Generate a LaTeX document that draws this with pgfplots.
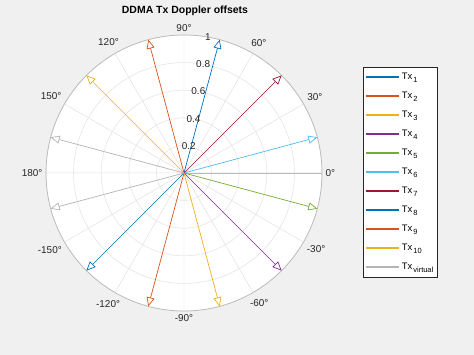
\documentclass[border=0pt]{standalone}
\usepackage{fontspec}
\setmainfont{Liberation Sans}
\usepackage{pgfplots}
\pgfplotsset{compat=1.18}
\usepgfplotslibrary{polar}
\usetikzlibrary{arrows.meta}
\definecolor{figbg}{RGB}{240,240,240}
\definecolor{gridc}{RGB}{226,226,226}
\definecolor{outerc}{RGB}{185,185,185}
\definecolor{tickc}{RGB}{38,38,38}
\definecolor{cA}{RGB}{0,114,189}
\definecolor{cB}{RGB}{217,83,25}
\definecolor{cC}{RGB}{237,177,32}
\definecolor{cD}{RGB}{126,47,142}
\definecolor{cE}{RGB}{119,172,48}
\definecolor{cF}{RGB}{77,190,238}
\definecolor{cG}{RGB}{162,20,47}
\definecolor{cV}{RGB}{180,180,180}
\newcommand\sub[1]{\kern1bp\raisebox{-0.6ex}{\fontsize{7.5}{8}\selectfont #1}}
\tikzset{rlab/.style={font=\fontsize{10}{12}\selectfont, text=tickc, inner sep=0pt}}
\pgfplotsset{limg/.style={legend image code/.code={\draw[draw=#1, line width=1.6bp] (0bp,0bp) -- (33bp,0bp);}}}
\begin{document}
\begin{tikzpicture}
\fill[figbg] (0bp,0bp) rectangle (474bp,355bp);
\useasboundingbox (0bp,0bp) rectangle (474bp,355bp);
\node[font=\bfseries\fontsize{10.5}{13}\selectfont, text=black] at (185bp,344bp) {DDMA Tx Doppler offsets};
\begin{polaraxis}[
  at={(184bp,182bp)}, anchor=origin,
  scale only axis, width=276bp, height=276bp,
  xmin=0, xmax=360, ymin=0, ymax=1,
  xtick={0,30,...,330},
  xticklabels={0°,30°,60°,90°,120°,150°,180°,-150°,-120°,-90°,-60°,-30°},
  ytick={0.2,0.4,0.6,0.8,1},
  yticklabel=\empty,
  grid=major,
  major grid style={draw=gridc, line width=0.5bp},
  axis line style={draw=outerc, line width=0.7bp},
  major tick length=0pt,
  axis background/.style={fill=white},
  clip=false,
  xticklabel style={font=\fontsize{10}{12}\selectfont, text=tickc},
  arw/.style={line width=0.7bp, -{Triangle[open,length=9bp,width=8bp]}, forget plot},
  legend cell align=left,
  legend style={at={(1.1486,0.884)}, anchor=north west, draw=tickc, fill=white, line width=0.5bp,
    font=\fontsize{9.5}{11}\selectfont, inner xsep=2bp, inner ysep=2.5bp, row sep=4bp,
    nodes={inner sep=2bp, text height=8bp, text depth=3bp}},
]
\addplot[arw, color=cA] coordinates {(0,0) (75,1)};
\addplot[arw, color=cB] coordinates {(0,0) (105,1)};
\addplot[arw, color=cC] coordinates {(0,0) (135,1)};
\addplot[arw, color=cD] coordinates {(0,0) (315,1)};
\addplot[arw, color=cE] coordinates {(0,0) (345,1)};
\addplot[arw, color=cF] coordinates {(0,0) (15,1)};
\addplot[arw, color=cG] coordinates {(0,0) (45,1)};
\addplot[arw, color=cA] coordinates {(0,0) (225,1)};
\addplot[arw, color=cB] coordinates {(0,0) (255,1)};
\addplot[arw, color=cC] coordinates {(0,0) (285,1)};
\addplot[arw, color=cV] coordinates {(0,0) (165,1)};
\addplot[arw, color=cV] coordinates {(0,0) (195,1)};
\addlegendimage{limg=cA}
\addlegendentry{Tx\sub{1}}
\addlegendimage{limg=cB}
\addlegendentry{Tx\sub{2}}
\addlegendimage{limg=cC}
\addlegendentry{Tx\sub{3}}
\addlegendimage{limg=cD}
\addlegendentry{Tx\sub{4}}
\addlegendimage{limg=cE}
\addlegendentry{Tx\sub{5}}
\addlegendimage{limg=cF}
\addlegendentry{Tx\sub{6}}
\addlegendimage{limg=cG}
\addlegendentry{Tx\sub{7}}
\addlegendimage{limg=cA}
\addlegendentry{Tx\sub{8}}
\addlegendimage{limg=cB}
\addlegendentry{Tx\sub{9}}
\addlegendimage{limg=cC}
\addlegendentry{Tx\sub{10}}
\addlegendimage{limg=cV}
\addlegendentry{Tx\sub{virtual}}
\node[rlab] at (axis cs:80,0.2) {0.2};
\node[rlab] at (axis cs:80,0.4) {0.4};
\node[rlab] at (axis cs:80,0.6) {0.6};
\node[rlab] at (axis cs:80,0.8) {0.8};
\node[rlab] at (axis cs:80,1) {1};
\end{polaraxis}
\end{tikzpicture}
\end{document}
